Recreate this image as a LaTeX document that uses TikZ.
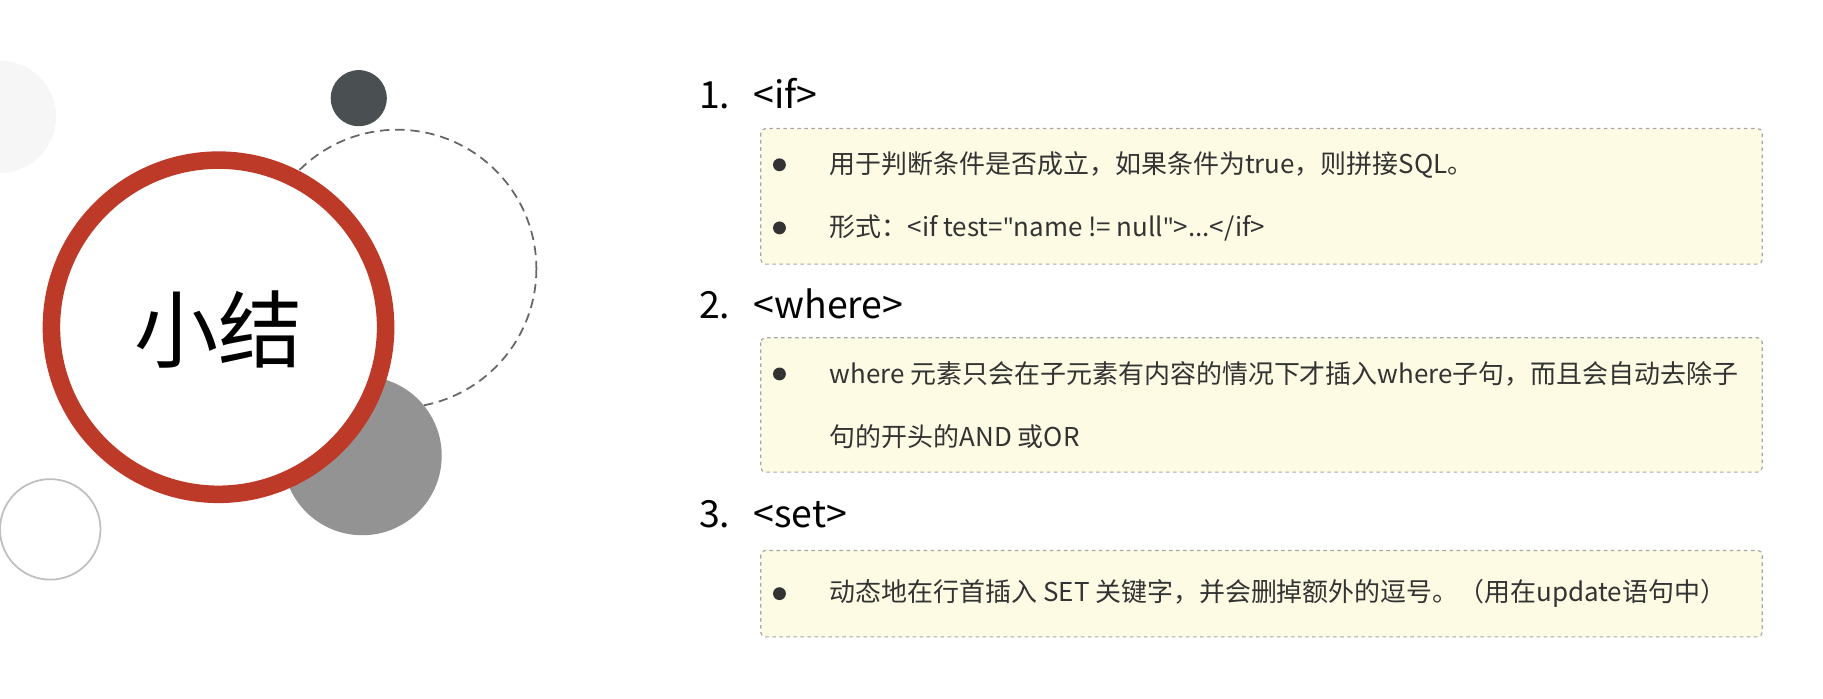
\documentclass[tikz,border=0pt]{standalone}
\usepackage{fontspec}
\setmainfont{Noto Sans CJK SC}
\newfontfamily\latinq{Noto Sans}
\newcommand{\dq}{{\latinq\symbol{34}}}
\definecolor{ringred}{HTML}{BE3A28}
\definecolor{darkc}{HTML}{4A4F52}
\definecolor{midgray}{HTML}{939393}
\definecolor{boxfill}{HTML}{FDFBE3}
\tikzset{
  box/.style={draw=gray!70, dashed, fill=boxfill, rounded corners=4pt, line width=1pt},
  bul/.style={circle, fill=black!80, inner sep=0pt, minimum size=11pt},
  txt/.style={anchor=west, font=\fontsize{22.2}{25}\selectfont, text=black!80, inner sep=0pt},
  head/.style={anchor=west, font=\fontsize{32}{36}\selectfont, inner sep=0pt}
}
\begin{document}
\begin{tikzpicture}[x=1pt,y=-1pt]
\useasboundingbox (0,0) rectangle (1560,598);
\fill[gray!7] (0,100) circle (48);
\fill[darkc] (307,84) circle (24);
\draw[gray!80!black, dashed, dash pattern=on 8pt off 5pt, line width=1.5pt] (340,230) circle (119);
\fill[midgray] (310,390) circle (68);
\draw[gray!50, line width=1.5pt] (43,453) circle (43);
\draw[ringred, fill=white, line width=15pt] (187,280) circle (143);
\node[font=\fontsize{72}{80}\selectfont] (title) at (187,282) {小结};

\node[head] (h1) at (598,80) {1.\hspace{20pt}<if>};
\node[head] (h2) at (598,260) {2.\hspace{20pt}<where>};
\node[head] (h3) at (598,440) {3.\hspace{20pt}<set>};

\draw[box] (651,110) rectangle (1508,226);
\draw[box] (651,289) rectangle (1508,404);
\draw[box] (651,471) rectangle (1508,545);

\node[bul] (b1) at (667,141) {};
\node[txt] (t1) at (710,141) {用于判断条件是否成立，如果条件为true，则拼接SQL。};
\node[bul] (b2) at (667,195) {};
\node[txt] (t2) at (710,195) {形式：<if test=\dq name != null\dq>...</if>};
\node[bul] (b3) at (667,320) {};
\node[txt] (t3) at (710,320) {where 元素只会在子元素有内容的情况下才插入where子句，而且会自动去除子};
\node[txt] (t4) at (710,374) {句的开头的AND 或OR};
\node[bul] (b5) at (667,508) {};
\node[txt] (t5) at (710,508) {动态地在行首插入 SET 关键字，并会删掉额外的逗号。（用在update语句中）};
\end{tikzpicture}
\end{document}
